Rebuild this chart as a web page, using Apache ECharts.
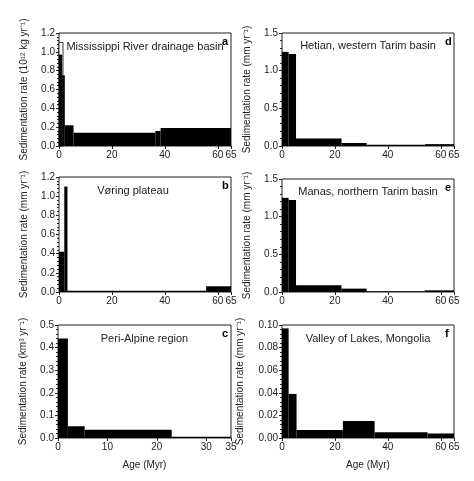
<!DOCTYPE html>
<html><head><meta charset="utf-8">
<script src="https://cdn.jsdelivr.net/npm/echarts@6/dist/echarts.min.js"></script>
<style>html,body{margin:0;padding:0;background:#fff}#c{width:474px;height:481px}</style>
</head><body><div id="c"></div>
<script>
// each step: [startAge, endAge, rate]
const stepsA = [[0,1.2,0.97],[1.2,2.2,0.75],[2.2,5.5,0.22],[5.5,36.4,0.14],[36.4,38.4,0.16],[38.4,65,0.19]];
const openA = [[0,1.5,1.1]];
const stepsB = [[0,2,0.42],[2,3.2,1.1],[3.2,55.6,0.012],[55.6,65,0.06]];
const stepsC = [[0,2,0.44],[2,5.4,0.052],[5.4,23,0.036],[23,35,0.005]];
const stepsD = [[0,2.5,1.25],[2.5,5.3,1.22],[5.3,22.5,0.1],[22.5,32,0.04],[32,54,0.015],[54,65,0.025]];
const stepsE = [[0,2.5,1.25],[2.5,5.3,1.22],[5.3,22.5,0.09],[22.5,32,0.045],[32,54,0.01],[54,65,0.022]];
const stepsF = [[0,2.5,0.097],[2.5,5.5,0.039],[5.5,23,0.007],[23,35,0.015],[35,55,0.005],[55,65,0.004]];
const titles = ['Mississippi River drainage basin','Vøring plateau','Peri-Alpine region','Hetian, western Tarim basin','Manas, northern Tarim basin','Valley of Lakes, Mongolia'];
const letters = ['a','b','c','d','e','f'];
const yNames = ['Sedimentation rate (10¹² kg yr⁻¹)','Sedimentation rate (mm yr⁻¹)','Sedimentation rate (km³ yr⁻¹)','Sedimentation rate (mm yr⁻¹)','Sedimentation rate (mm yr⁻¹)','Sedimentation rate (mm yr⁻¹)'];
const yMax = [1.2,1.2,0.5,1.5,1.5,0.10];
const yInt = [0.2,0.2,0.1,0.5,0.5,0.02];
const xMax = [65,65,35,65,65,65];
const xInt = [20,20,10,20,20,20];
const allSteps = [stepsA,stepsB,stepsC,stepsD,stepsE,stepsF];

const boxes = [
 {l:59,t:33,w:172,h:113},{l:59,t:177,w:172,h:115},{l:58,t:325,w:173,h:113},
 {l:282,t:33,w:172,h:113},{l:282,t:179,w:172,h:113},{l:282,t:325,w:172,h:113}];
const font = 'Liberation Sans';
const grids=[],xAxes=[],yAxes=[],series=[],graphics=[];
function stepSeries(i,data,fill){
  return {type:'custom',xAxisIndex:i,yAxisIndex:i,data:data,silent:true,
    renderItem:(p,api)=>{
      const a=api.coord([api.value(0),api.value(2)]),b=api.coord([api.value(1),0]);
      return {type:'rect',shape:{x:a[0],y:a[1],width:b[0]-a[0],height:b[1]-a[1]},
        style:{fill:fill,stroke:'#000',lineWidth:fill==='#fff'?0.8:0}};
    },encode:{x:[0,1],y:2},z:fill==='#fff'?1:2};
}
boxes.forEach((b,i)=>{
  grids.push({left:b.l,top:b.t,width:b.w,height:b.h,show:true,borderColor:'#222',borderWidth:1,backgroundColor:'#fff'});
  const lbl={color:'#222',fontFamily:font,fontSize:10,margin:4};
  xAxes.push({type:'value',gridIndex:i,min:0,max:xMax[i],interval:xInt[i],
    axisLine:{show:false},splitLine:{show:false},axisTick:{show:true,length:3,lineStyle:{color:'#222'}},
    minorTick:{show:false},axisLabel:lbl,
    name:(i===2||i===5)?'Age (Myr)':'',nameLocation:'middle',nameGap:22,
    nameTextStyle:{color:'#222',fontFamily:font,fontSize:10}});
  yAxes.push({type:'value',gridIndex:i,min:0,max:yMax[i],interval:yInt[i],
    axisLine:{show:false},splitLine:{show:false},axisTick:{show:true,length:3,lineStyle:{color:'#222'}},
    minorTick:{show:true,splitNumber:5,length:2,lineStyle:{color:'#222'}},
    axisLabel:Object.assign({},lbl,{formatter:v=>v.toFixed(i===5?2:1)}),
    name:yNames[i],nameLocation:'middle',nameGap:i===5?37:30,
    nameTextStyle:{color:'#222',fontFamily:font,fontSize:10}});
  series.push(stepSeries(i,allSteps[i],'#000'));
  graphics.push({type:'text',left:b.l+b.w/2-(i===1?12:0),top:b.t+(i===3||i===4?7:8),
    style:{text:titles[i],font:'11px "'+font+'"',fill:'#222',textAlign:'center'}});
  graphics.push({type:'text',left:b.l+b.w-9,top:b.t+3,
    style:{text:letters[i],font:'bold 11px "'+font+'"',fill:'#000'}});
});
series.push(stepSeries(0,openA,'#fff'));
// fix graphic centering
graphics.forEach(g=>{ if(g.style.textAlign==='center'){ g.x=g.left; g.y=g.top; delete g.left; delete g.top; }});
const chart=echarts.init(document.getElementById('c'),null,{renderer:'canvas'});
chart.setOption({animation:false,backgroundColor:'#fff',grid:grids,xAxis:xAxes,yAxis:yAxes,series:series,graphic:graphics});
</script></body></html>
